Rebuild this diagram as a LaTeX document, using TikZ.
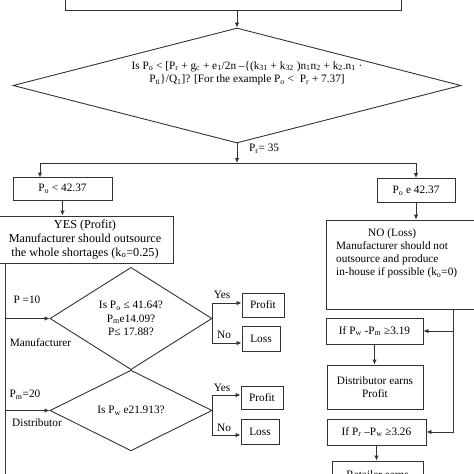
\documentclass[tikz,border=0pt]{standalone}
\usepackage{fontspec}
\setmainfont{Liberation Serif}
\usetikzlibrary{arrows.meta, positioning, shapes.geometric}
\definecolor{boxline}{HTML}{333333}
\newcommand{\sbs}[1]{\textsubscript{#1}}
\newcommand{\chartfont}{\fontsize{11.3}{13.3}\selectfont}
\newcommand{\bigchartfont}{\fontsize{12.2}{13.6}\selectfont}
\tikzset{
  blk/.style      = {rectangle, draw=boxline, line width=0.9pt, align=center,
                     inner sep=0pt, font=\chartfont},
  decision/.style = {diamond, draw=boxline, line width=0.9pt, align=center,
                     inner sep=1pt, font=\chartfont},
  lbl/.style      = {font=\chartfont, inner sep=0pt},
  flow/.style     = {-{Latex[length=5pt, width=4.5pt]}, line width=0.9pt, draw=boxline},
  link/.style     = {line width=0.9pt, draw=boxline},
}

\begin{document}
\begin{tikzpicture}[x=1pt, y=-1pt]
	\useasboundingbox (0,0) rectangle (474,474);
	\clip (0,0) rectangle (474,474);
	\node[blk, minimum width=336, minimum height=50] (start) at (233,-15) {};
	\node[decision, minimum width=448, minimum height=115] (cond) at (237,85.5) {};
	\node[lbl, align=center] (condtxt) at (247,73) {Is P\sbs{o} < [P\sbs{r} + g\sbs{c} + e\sbs{1}/2n –\{(k\sbs{31} + k\sbs{32} )n\sbs{1}n\sbs{2} + k\sbs{2}.n\sbs{1} ·\\P\sbs{ti}\}/Q\sbs{1}]? [For the example P\sbs{o} <\ \ P\sbs{r} + 7.37]};
	\coordinate (split) at (237,163);
	\node[lbl, anchor=west] (prlbl) at (249,149) {P\sbs{r}= 35};
	\node[blk, minimum width=99, minimum height=23] (lt) at (62.5,189) {P\sbs{o} < 42.37};
	\node[blk, minimum width=78, minimum height=24] (rt) at (416,190.5) {P\sbs{o} e 42.37};
	\coordinate (ltin) at (40,177.5);
	\node[blk, minimum width=176, minimum height=47, font=\bigchartfont] (yes) at (85,239.5) {YES (Profit)\\Manufacturer should outsource\\the whole shortages (k\sbs{o}=0.25)};
	\node[blk, minimum width=152, minimum height=89] (no) at (402,264.5) {};
	\node[lbl, align=left, anchor=north west] (notxt) at (336,228) {\hspace*{32pt}NO (Loss)\\Manufacturer should not\\outsource and produce\\in-house if possible (k\sbs{o}=0)};
	\coordinate (ltop) at (5,263);
	\coordinate (lend) at (5,480);
	\coordinate (rtop) at (453,309);
	\node[decision, minimum width=162, minimum height=93] (man) at (131,318.5) {Is P\sbs{o} ≤ 41.64?\\P\sbs{m}e14.09?\\P≤ 17.88?};
	\node[decision, minimum width=162, minimum height=50] (dist) at (131,410.5) {Is P\sbs{w} e21.913?};
	\node[lbl] (p10) at (27,300) {P =10};
	\node[lbl] (mlbl) at (40.5,343) {Manufacturer};
	\node[lbl] (p20) at (25,395) {P\sbs{m}=20};
	\node[lbl] (dlbl) at (37,423) {Distributor};
	\coordinate (yes1) at (212,303);
	\coordinate (no1) at (212,343);
	\coordinate (yes2) at (212,395);
	\coordinate (no2) at (212,435);
	\node[lbl] (ylbl1) at (222,295) {Yes};
	\node[lbl] (nlbl1) at (224,335) {No};
	\node[lbl] (ylbl2) at (222,388) {Yes};
	\node[lbl] (nlbl2) at (224,428) {No};
	\node[blk, minimum width=42, minimum height=24] (prof1) at (263,305) {Profit};
	\node[blk, minimum width=38, minimum height=25] (loss1) at (261,338.5) {Loss};
	\node[blk, minimum width=42, minimum height=23] (prof2) at (262,397.5) {Profit};
	\node[blk, minimum width=38, minimum height=25] (loss2) at (260,431.5) {Loss};
	\node[blk, minimum width=97, minimum height=26] (if1) at (374.5,331) {If P\sbs{w} -P\sbs{m} ≥3.19};
	\node[blk, minimum width=96, minimum height=44] (dprof) at (375,387) {Distributor earns\\Profit};
	\node[blk, minimum width=99, minimum height=26] (if2) at (376.5,432) {If P\sbs{r} –P\sbs{w} ≥3.26};
	\node[blk, minimum width=91, minimum height=40] (rprof) at (377.5,481) {Retailer earns\\Profit};
	\draw[flow] (start.south -| cond.north) -- (cond.north);
	\draw[flow] (cond.south) -- (split);
	\draw[flow] (split) -| (ltin);
	\draw[flow] (split) -| (rt.north);
	\foreach \a/\b in {lt/yes, rt/no, if1/dprof, if2/rprof}{\draw[flow] (\a.south) -- (\a.south |- \b.north);}
	\draw[link] (ltop) -- (lend);
	\draw[flow] (ltop |- man.west) -- (man.west);
	\draw[flow] (ltop |- dist.west) -- (dist.west);
	\draw[link] (yes1) -- (no1);
	\draw[link] (yes2) -- (no2);
	\foreach \a/\b in {yes1/prof1, no1/loss1, yes2/prof2, no2/loss2}{\draw[flow] (\a) -- (\a -| \b.west);}
	\draw[flow] (rtop) |- (if2.east);
	\draw[flow] (rtop |- if1.east) -- (if1.east);
\end{tikzpicture}
\end{document}
